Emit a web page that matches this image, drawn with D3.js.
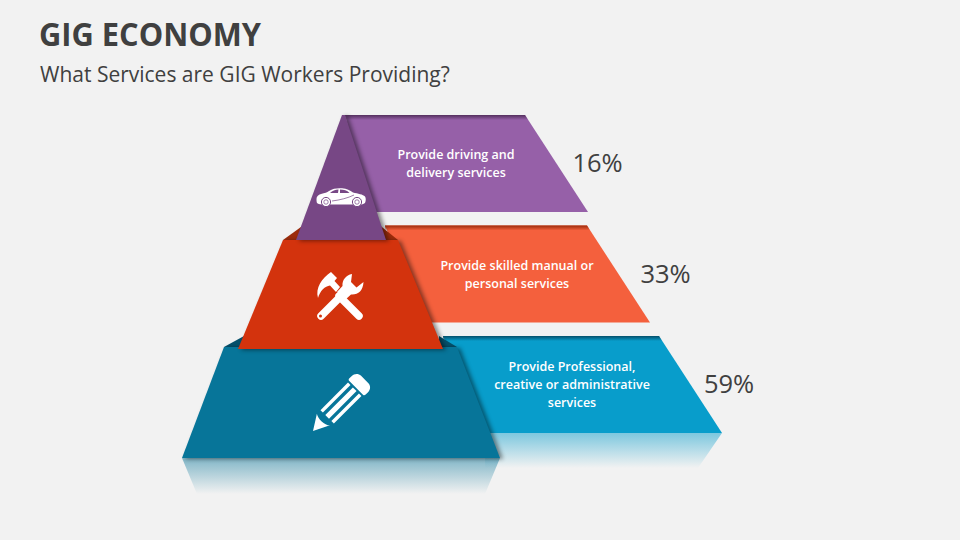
<!DOCTYPE html>
<html>
<head>
<meta charset="utf-8">
<script src="https://cdn.jsdelivr.net/npm/d3@7"></script>
<style>
  html, body { margin: 0; padding: 0; background: #f2f2f2; }
  svg { display: block; }
</style>
</head>
<body>
<div class="app"></div>
<script>
// Data
const tiers = ['driving', 'skilled', 'professional'];
const tierLabels = [
  ['Provide driving and', 'delivery services'],
  ['Provide skilled manual or', 'personal services'],
  ['Provide Professional,', 'creative or administrative', 'services']
];
const tierShares = [16, 33, 59];

// Setup
const width = 960;
const height = 540;
const FONT = '"Open Sans", sans-serif';
const TEXT_COLOR = '#404040';

const svg = d3.select('.app')
  .append('svg')
  .attr('viewBox', [0, 0, width, height])
  .attr('width', width)
  .attr('height', height);

svg.append('rect').attr('width', width).attr('height', height).attr('fill', '#f2f2f2');

// Scales
const panelColor = d3.scaleOrdinal(tiers, ['#9660a8', '#f4603d', '#089dcb']);
const frontColor = d3.scaleOrdinal(tiers, ['#774785', '#d3330d', '#077599']);
const edgeColor = d3.scaleOrdinal(tiers, ['#55305f', '#9c2c0c', '#05506b']);

const panelY = d3.scaleBand().domain(tiers).range([115, 433]).paddingInner(0.122);
const panelTopRight = d3.scaleOrdinal(tiers, [525, 587, 659]);
const panelSlant = 63;
const panelTopLeft = d3.scaleOrdinal(tiers, [345, 385, 443]);
const panelBottomLeft = d3.scaleOrdinal(tiers, [370, 425, 485]);

const frontTop = d3.scaleOrdinal(tiers, [115, 240, 347]);
const frontBottom = d3.scaleOrdinal(tiers, [240, 349, 458]);
const frontTopLeft = d3.scaleOrdinal(tiers, [342, 283, 224]);
const frontTopRight = d3.scaleOrdinal(tiers, [345, 398, 457]);
const frontBottomLeft = d3.scaleOrdinal(tiers, [296, 238, 182]);
const frontBottomRight = d3.scaleOrdinal(tiers, [386, 443, 500]);

const labelX = d3.scaleOrdinal(tiers, [456, 517, 572]);
const shareX = d3.scaleOrdinal(tiers, [597.5, 665.5, 729]);

const polygon = d3.line();

// Defs
const defs = svg.append('defs');

const shadow = defs.append('filter')
  .attr('id', 'front-shadow')
  .attr('color-interpolation-filters', 'sRGB')
  .attr('x', '-10%').attr('y', '-10%')
  .attr('width', '125%').attr('height', '125%');
shadow.append('feDropShadow')
  .attr('dx', 3).attr('dy', 1)
  .attr('stdDeviation', 2)
  .attr('flood-color', '#000')
  .attr('flood-opacity', 0.45);

tiers.forEach(t => {
  const grad = defs.append('linearGradient')
    .attr('id', `strip-${t}`)
    .attr('x1', 0).attr('y1', 0).attr('x2', 0).attr('y2', 1);
  grad.append('stop').attr('offset', 0).attr('stop-color', edgeColor(t));
  grad.append('stop').attr('offset', 1).attr('stop-color', edgeColor(t)).attr('stop-opacity', 0);
});

const fade = (id, color, top) => {
  const grad = defs.append('linearGradient')
    .attr('id', id)
    .attr('x1', 0).attr('y1', 0).attr('x2', 0).attr('y2', 1);
  grad.append('stop').attr('offset', 0).attr('stop-color', color).attr('stop-opacity', top);
  grad.append('stop').attr('offset', 1).attr('stop-color', color).attr('stop-opacity', 0);
};
fade('fade-front', frontColor('professional'), 0.48);
fade('fade-panel', panelColor('professional'), 0.5);

// Reflections
const baseTier = 'professional';
const panelBottom = t => panelY(t) + panelY.bandwidth();

svg.append('path')
  .attr('fill', 'url(#fade-panel)')
  .attr('d', polygon([
    [panelBottomLeft(baseTier), panelBottom(baseTier)],
    [panelTopRight(baseTier) + panelSlant, panelBottom(baseTier)],
    [panelTopRight(baseTier) + panelSlant - 24, panelBottom(baseTier) + 35],
    [panelBottomLeft(baseTier), panelBottom(baseTier) + 35]
  ]) + 'Z');

svg.append('path')
  .attr('fill', 'url(#fade-front)')
  .attr('d', polygon([
    [frontBottomLeft(baseTier), frontBottom(baseTier)],
    [frontBottomRight(baseTier), frontBottom(baseTier)],
    [frontBottomRight(baseTier) - 15, frontBottom(baseTier) + 36],
    [frontBottomLeft(baseTier) + 15, frontBottom(baseTier) + 36]
  ]) + 'Z');

// Right hand panels
const gPanels = svg.append('g');

gPanels.selectAll('path.panel')
  .data(tiers)
  .join('path')
  .attr('class', 'panel')
  .attr('fill', d => panelColor(d))
  .attr('d', d => polygon([
    [panelTopLeft(d), panelY(d)],
    [panelTopRight(d), panelY(d)],
    [panelTopRight(d) + panelSlant, panelBottom(d)],
    [panelBottomLeft(d), panelBottom(d)]
  ]) + 'Z');

gPanels.selectAll('path.strip')
  .data(tiers)
  .join('path')
  .attr('class', 'strip')
  .attr('fill', d => `url(#strip-${d})`)
  .attr('d', d => polygon([
    [panelTopLeft(d), panelY(d)],
    [panelTopRight(d), panelY(d)],
    [panelTopRight(d) + panelSlant * 5 / panelY.bandwidth(), panelY(d) + 5],
    [panelTopLeft(d), panelY(d) + 5]
  ]) + 'Z');

// Folded corners behind the front faces
const gFolds = svg.append('g');
const foldTiers = tiers.slice(1);

gFolds.selectAll('path.fold-left')
  .data(foldTiers)
  .join('path')
  .attr('class', 'fold-left')
  .attr('fill', d => edgeColor(d))
  .attr('d', d => polygon([
    [frontTopLeft(d), frontTop(d)],
    [frontTopLeft(d) + 20, panelY(d)],
    [frontTopLeft(d) + 20, frontTop(d)]
  ]) + 'Z');

gFolds.selectAll('path.fold-right')
  .data(foldTiers)
  .join('path')
  .attr('class', 'fold-right')
  .attr('fill', d => edgeColor(d))
  .attr('d', d => polygon([
    [frontTopRight(d), frontTop(d)],
    [frontTopRight(d) - 18, panelY(d)],
    [frontTopRight(d) - 18, frontTop(d)]
  ]) + 'Z');

// Front faces, bottom tier first so the upper ones sit on top
const gFront = svg.append('g');

gFront.selectAll('path')
  .data(tiers.slice().reverse())
  .join('path')
  .attr('fill', d => frontColor(d))
  .attr('filter', 'url(#front-shadow)')
  .attr('d', d => polygon([
    [frontTopLeft(d), frontTop(d)],
    [frontTopRight(d), frontTop(d)],
    [frontBottomRight(d), frontBottom(d)],
    [frontBottomLeft(d), frontBottom(d)]
  ]) + 'Z');

// Icons
const gCar = svg.append('g').attr('transform', 'translate(316,188)');
gCar.append('path')
  .attr('fill', '#fff')
  .attr('d', 'M0.5,11 C0.5,8.5 2,7 5,6 C9,5 11,4.5 13,3 C17,0.5 21,0 26,0.3 C31,0.6 34,2.5 37,4.5 C42,5.5 47,6.5 49,8.5 C50,10 50,13 49,15 C47,16 46,16.5 44,16.5 L9,16.5 C5,16.5 2,16 1,15 C0.5,13.5 0.5,12 0.5,11 Z');
gCar.append('path')
  .attr('fill', frontColor('driving'))
  .attr('d', 'M14,5 C16.5,3 19,1.8 22.5,1.6 L22,5 Z M24,1.6 C28,1.6 31,2.6 33.5,5 L24,5 Z');
gCar.append('path')
  .attr('fill', 'none')
  .attr('stroke', frontColor('driving'))
  .attr('stroke-width', 0.7)
  .attr('d', 'M16,13 C24,12 32,10 38,7');
gCar.selectAll('circle.tyre')
  .data([10, 41])
  .join('circle')
  .attr('class', 'tyre')
  .attr('cx', d => d)
  .attr('cy', 14)
  .attr('r', 4.6)
  .attr('fill', '#fff')
  .attr('stroke', frontColor('driving'))
  .attr('stroke-width', 1);
gCar.selectAll('circle.hub')
  .data([10, 41])
  .join('circle')
  .attr('class', 'hub')
  .attr('cx', d => d)
  .attr('cy', 14)
  .attr('r', 2.2)
  .attr('fill', 'none')
  .attr('stroke', frontColor('driving'))
  .attr('stroke-width', 0.7);

const gTools = svg.append('g').attr('transform', 'translate(317,272)');
gTools.append('path')
  .attr('fill', 'none').attr('stroke', '#fff').attr('stroke-width', 7.5).attr('stroke-linecap', 'round')
  .attr('d', 'M4,44 L25,23 M42,44 L22,24');
gTools.append('path')
  .attr('fill', '#fff')
  .attr('d', 'M14,0 L20,6 L17.5,9 L23,15 L19,20 L13,13.5 C8,14 3,19 1,26 C-2,16 5,6 14,0 Z');
gTools.append('path')
  .attr('fill', '#fff')
  .attr('d', 'M35,2 C29,3 25,8 25.5,14 L20,20 L28,28 L34,22.5 C41,23 46,19 46.5,10 L39.5,15.5 L34,10 Z');
gTools.append('circle')
  .attr('cx', 3.5).attr('cy', 44).attr('r', 1.5)
  .attr('fill', frontColor('skilled'));

const gPencil = svg.append('g').attr('transform', 'translate(313,431) rotate(-45)');
gPencil.append('path')
  .attr('fill', '#fff')
  .attr('d', 'M0,0 L15,-9.5 C12,-5 12,4 16,8 Z');
gPencil.selectAll('rect.bar')
  .data([-9.5, -2.6, 6])
  .join('rect')
  .attr('class', 'bar')
  .attr('x', 20)
  .attr('width', 39)
  .attr('y', d => d)
  .attr('height', (d, i) => i === 1 ? 5.2 : 3.5)
  .attr('fill', '#fff');
gPencil.append('path')
  .attr('fill', '#fff')
  .attr('d', 'M61,-10 C61,-11 62,-11.5 63,-11.5 L66,-11.5 C70,-11.5 73,-9 73,-5 L73,5 C73,9 70,11.5 66,11.5 L63,11.5 C62,11.5 61,11 61,10 Z');

// Labels
const gLabels = svg.append('g')
  .attr('font-family', FONT)
  .attr('font-weight', 600)
  .attr('font-size', 12.5)
  .attr('fill', '#fff')
  .attr('text-anchor', 'middle');

tiers.forEach((t, i) => {
  const lines = tierLabels[i];
  const mid = panelY(t) + panelY.bandwidth() / 2 + 0.5;
  gLabels.selectAll(`text.label-${t}`)
    .data(lines)
    .join('text')
    .attr('class', `label-${t}`)
    .attr('x', labelX(t))
    .attr('y', (d, j) => mid + (j - (lines.length - 1) / 2) * 18)
    .attr('dy', '0.35em')
    .text(d => d);
});

svg.append('g')
  .attr('font-family', FONT)
  .attr('font-size', 25.5)
  .attr('fill', TEXT_COLOR)
  .attr('text-anchor', 'middle')
  .selectAll('text')
  .data(tiers)
  .join('text')
  .attr('x', d => shareX(d))
  .attr('y', (d, i) => panelY(d) + panelY.bandwidth() / 2)
  .attr('dy', '0.35em')
  .text((d, i) => `${tierShares[i]}%`);

// Titles
svg.append('text')
  .attr('x', 39).attr('y', 46)
  .attr('font-family', FONT)
  .attr('font-weight', 700)
  .attr('font-size', 32)
  .attr('fill', TEXT_COLOR)
  .attr('textLength', 222)
  .attr('lengthAdjust', 'spacingAndGlyphs')
  .text('GIG ECONOMY');

svg.append('text')
  .attr('x', 40).attr('y', 82)
  .attr('font-family', FONT)
  .attr('font-size', 21)
  .attr('fill', TEXT_COLOR)
  .text('What Services are GIG Workers Providing?');
</script>
</body>
</html>
